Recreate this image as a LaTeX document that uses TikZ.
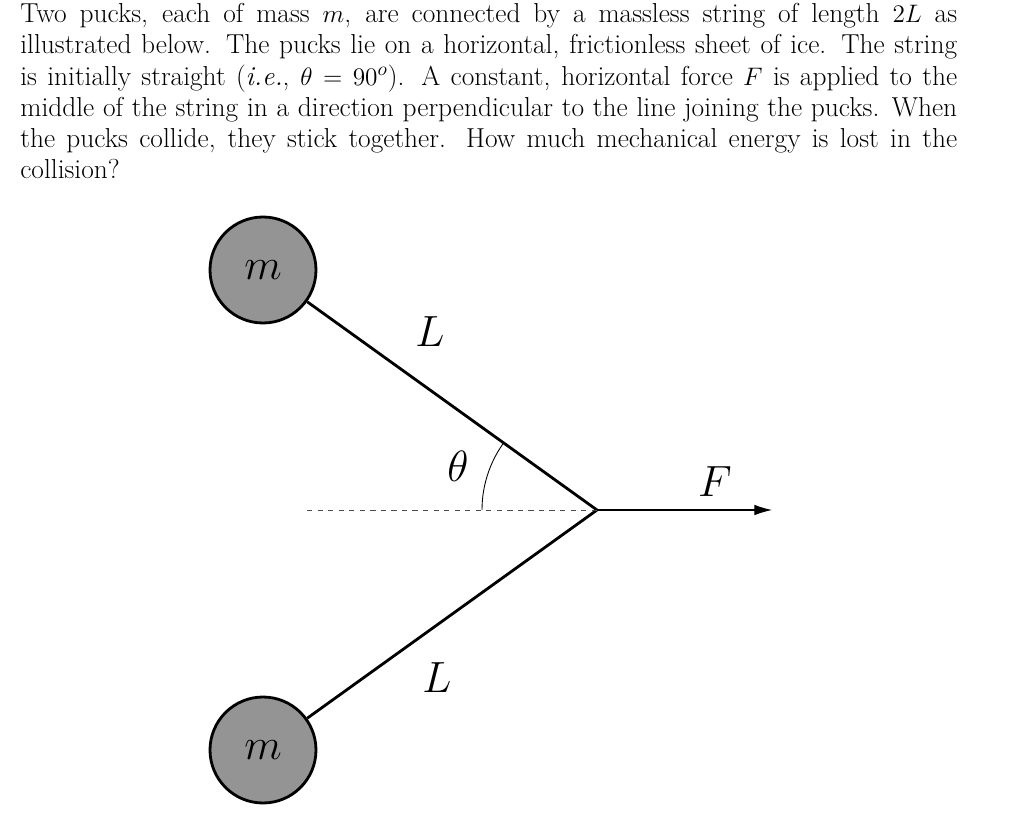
\documentclass[tikz,border=0pt]{standalone}
\usetikzlibrary{arrows.meta}
\begin{document}
\begin{tikzpicture}[x=0.02cm,y=-0.02cm,
  puck/.style={circle,draw=black,line width=1.6pt,fill=black!42,minimum size=106*0.02cm,inner sep=0pt,font=\fontsize{40}{48}\selectfont},
  big/.style={font=\fontsize{38}{46}\selectfont,inner sep=0pt},
  str/.style={line width=1.6pt}]
\useasboundingbox (0,0) rectangle (1024,824);
\node[anchor=north west,inner sep=0pt,text width=18.74cm,align=justify,font=\fontsize{15.6}{17.8}\selectfont] (txt) at (20,3)
{Two pucks, each of mass $m$, are connected by a massless string of length $2L$ as\linebreak illustrated below. The pucks lie on a horizontal, frictionless sheet of ice. The string\linebreak is initially straight (\textit{i.e.}, $\theta=90^o$). A constant, horizontal force $F$ is applied to the\linebreak middle of the string in a direction perpendicular to the line joining the pucks. When\linebreak the pucks collide, they stick together. How much mechanical energy is lost in the\linebreak collision?};
\node[puck] (p1) at (263,270) {$m$};
\node[puck] (p2) at (263,750) {$m$};
\coordinate (a) at (597,510);
\coordinate (d) at (307,510);
\coordinate (e) at (772,510);
\draw[str] (p1) -- (a) -- (p2);
\draw[dashed,line width=0.5pt,black!70] (d) -- (a);
\draw[line width=0.6pt,-{Latex[length=10pt,width=6pt]}] (a) -- (e);
\draw[line width=0.5pt] (a) ++(180:115) arc[start angle=180,end angle=215.7,radius=115];
\node[big] (L1) at (430,332) {$L$};
\node[big] (L2) at (437,678) {$L$};
\node[big] (th) at (458,466) {$\theta$};
\node[big] (F) at (715,482) {$F$};
\end{tikzpicture}
\end{document}
